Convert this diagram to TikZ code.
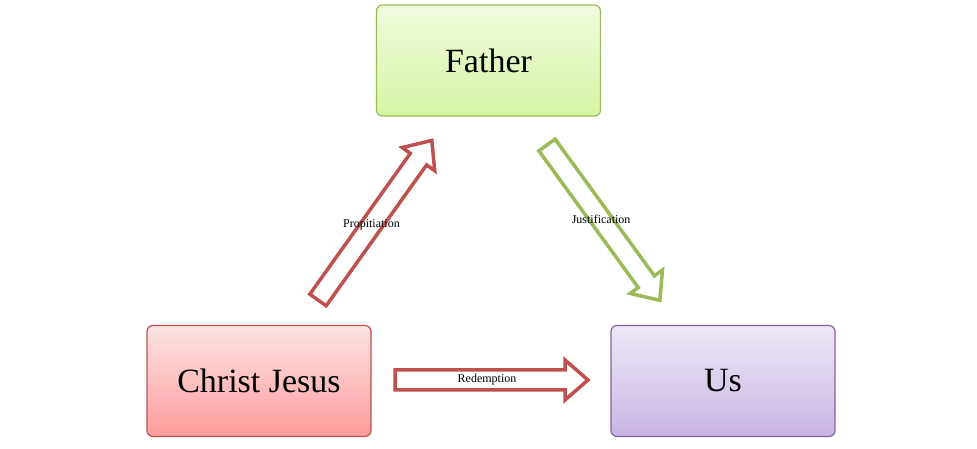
\documentclass[tikz,border=0pt]{standalone}
\usepackage{fontspec}
\setmainfont{Liberation Serif}
\definecolor{fgA}{HTML}{F1FBDF}\definecolor{fgB}{HTML}{D6F5A4}\definecolor{fbd}{HTML}{9BBB59}
\definecolor{cgA}{HTML}{FCE4E4}\definecolor{cgB}{HTML}{FF9C9C}\definecolor{cbd}{HTML}{C0504D}
\definecolor{ugA}{HTML}{EEE8F6}\definecolor{ugB}{HTML}{C8B5E2}\definecolor{ubd}{HTML}{8064A2}
\tikzset{
 boxx/.style={rounded corners=6pt,minimum width=224pt,minimum height=111pt,line width=1.2pt,font=\fontsize{34}{40}\selectfont},
 hollow/.style={draw=#1,fill=white,line width=3.5pt,line join=miter},
 lbl/.style={font=\fontsize{12}{14}\selectfont,inner sep=0pt}
}
\newcommand{\blockarrow}[3]{% x,y tail ; angle ; length in #3 (color via scope)
}
\begin{document}
\begin{tikzpicture}[x=1pt,y=1pt]
\useasboundingbox (0,0) rectangle (977,449);
\node[boxx,draw=fbd,top color=fgA,bottom color=fgB] (father) at (488.5,388.5) {Father};
\node[boxx,draw=cbd,top color=cgA,bottom color=cgB] (christ) at (259,68) {Christ Jesus};
\node[boxx,draw=ubd,top color=ugA,bottom color=ugB] (us) at (723,68) {Us};
% Redemption
\begin{scope}[shift={(395,69)},rotate=0]
 \draw[hollow=cbd] (0,-10) -- (170,-10) -- (170,-20) -- (193,0) -- (170,20) -- (170,10) -- (0,10) -- cycle;
 \node[lbl] (red) at (92,0) {Redemption};
\end{scope}
% Propitiation
\begin{scope}[shift={(318,149)},rotate=54.5]
 \draw[hollow=cbd] (0,-10) -- (173,-10) -- (173,-20) -- (196,0) -- (173,20) -- (173,10) -- (0,10) -- cycle;
 \node[lbl,rotate=0] (prop) at (92,0) {Propitiation};
\end{scope}
% Justification
\begin{scope}[shift={(547,304)},rotate=-54]
 \draw[hollow=fbd] (0,-10) -- (169,-10) -- (169,-20) -- (192,0) -- (169,20) -- (169,10) -- (0,10) -- cycle;
 \node[lbl] (just) at (92,0) {Justification};
\end{scope}
\end{tikzpicture}
\end{document}
